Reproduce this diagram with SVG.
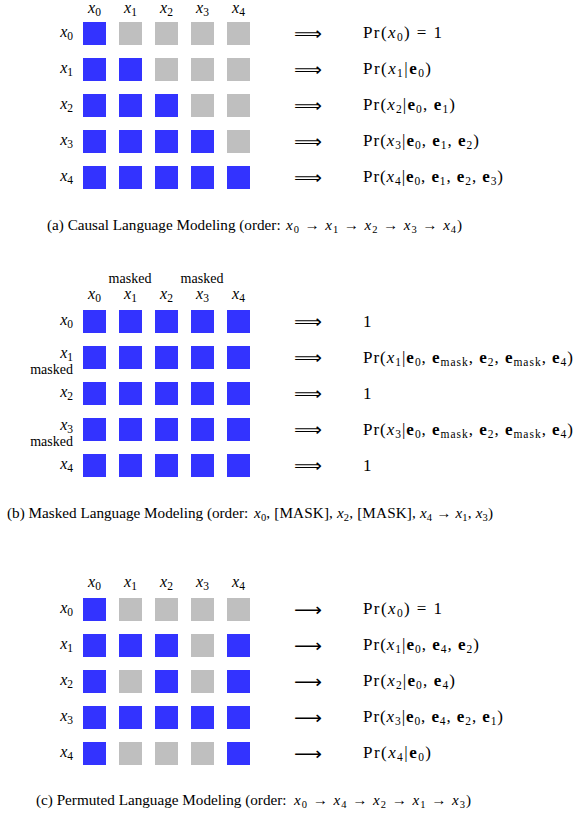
<svg xmlns="http://www.w3.org/2000/svg" width="586" height="828" viewBox="0 0 586 828">
<style>
text{font-family:"Liberation Serif","Times New Roman",serif;fill:#000}
.bl{fill:#3333ff}
.gr{fill:#bfbfbf}
.lbl{font-size:16px}
.m{font-size:17px}
.it{font-style:italic}
.b{font-weight:bold}
.sub{font-size:11.5px;font-style:normal;font-weight:normal}
.cap{font-size:15.2px}
.cs{font-size:10.5px;font-style:normal}
.msk{font-size:14px}
.arr{font-family:"DejaVu Sans",sans-serif;font-size:18px}
</style>
<rect width="586" height="828" fill="#fff"/>

<!-- Panel (a) -->
<g id="panel-a">
<g id="a-header">
<text class="lbl" x="94.5" y="12.5" text-anchor="middle"><tspan class="it">x</tspan><tspan class="sub" dy="3">0</tspan></text>
<text class="lbl" x="130.5" y="12.5" text-anchor="middle"><tspan class="it">x</tspan><tspan class="sub" dy="3">1</tspan></text>
<text class="lbl" x="166.5" y="12.5" text-anchor="middle"><tspan class="it">x</tspan><tspan class="sub" dy="3">2</tspan></text>
<text class="lbl" x="202.5" y="12.5" text-anchor="middle"><tspan class="it">x</tspan><tspan class="sub" dy="3">3</tspan></text>
<text class="lbl" x="238.5" y="12.5" text-anchor="middle"><tspan class="it">x</tspan><tspan class="sub" dy="3">4</tspan></text>
</g>
<g id="a-rowlabels">
<text class="lbl" x="73" y="37" text-anchor="end"><tspan class="it">x</tspan><tspan class="sub" dy="3">0</tspan></text>
<text class="lbl" x="73" y="73" text-anchor="end"><tspan class="it">x</tspan><tspan class="sub" dy="3">1</tspan></text>
<text class="lbl" x="73" y="109" text-anchor="end"><tspan class="it">x</tspan><tspan class="sub" dy="3">2</tspan></text>
<text class="lbl" x="73" y="145" text-anchor="end"><tspan class="it">x</tspan><tspan class="sub" dy="3">3</tspan></text>
<text class="lbl" x="73" y="181" text-anchor="end"><tspan class="it">x</tspan><tspan class="sub" dy="3">4</tspan></text>
</g>
<g id="a-grid">
<rect class="bl" x="83" y="22" width="23" height="23"/><rect class="gr" x="119" y="22" width="23" height="23"/><rect class="gr" x="155" y="22" width="23" height="23"/><rect class="gr" x="191" y="22" width="23" height="23"/><rect class="gr" x="227" y="22" width="23" height="23"/>
<rect class="bl" x="83" y="58" width="23" height="23"/><rect class="bl" x="119" y="58" width="23" height="23"/><rect class="gr" x="155" y="58" width="23" height="23"/><rect class="gr" x="191" y="58" width="23" height="23"/><rect class="gr" x="227" y="58" width="23" height="23"/>
<rect class="bl" x="83" y="94" width="23" height="23"/><rect class="bl" x="119" y="94" width="23" height="23"/><rect class="bl" x="155" y="94" width="23" height="23"/><rect class="gr" x="191" y="94" width="23" height="23"/><rect class="gr" x="227" y="94" width="23" height="23"/>
<rect class="bl" x="83" y="130" width="23" height="23"/><rect class="bl" x="119" y="130" width="23" height="23"/><rect class="bl" x="155" y="130" width="23" height="23"/><rect class="bl" x="191" y="130" width="23" height="23"/><rect class="gr" x="227" y="130" width="23" height="23"/>
<rect class="bl" x="83" y="166" width="23" height="23"/><rect class="bl" x="119" y="166" width="23" height="23"/><rect class="bl" x="155" y="166" width="23" height="23"/><rect class="bl" x="191" y="166" width="23" height="23"/><rect class="bl" x="227" y="166" width="23" height="23"/>
</g>
<g id="a-arrows">
<text class="arr" x="294" y="39.5" textLength="28" lengthAdjust="spacingAndGlyphs">⟹</text>
<text class="arr" x="294" y="75.5" textLength="28" lengthAdjust="spacingAndGlyphs">⟹</text>
<text class="arr" x="294" y="111.5" textLength="28" lengthAdjust="spacingAndGlyphs">⟹</text>
<text class="arr" x="294" y="147.5" textLength="28" lengthAdjust="spacingAndGlyphs">⟹</text>
<text class="arr" x="294" y="183.5" textLength="28" lengthAdjust="spacingAndGlyphs">⟹</text>
</g>
<g id="a-probs">
<text class="m" x="363" y="37.5" textLength="79" lengthAdjust="spacing">Pr(<tspan class="it">x</tspan><tspan class="sub" dy="3">0</tspan><tspan dy="-3">) = 1</tspan></text>
<text class="m" x="363" y="73.5" textLength="68" lengthAdjust="spacing">Pr(<tspan class="it">x</tspan><tspan class="sub" dy="3">1</tspan><tspan dy="-3">|</tspan><tspan class="b">e</tspan><tspan class="sub" dy="3">0</tspan><tspan dy="-3">)</tspan></text>
<text class="m" x="363" y="109.5" textLength="92" lengthAdjust="spacing">Pr(<tspan class="it">x</tspan><tspan class="sub" dy="3">2</tspan><tspan dy="-3">|</tspan><tspan class="b">e</tspan><tspan class="sub" dy="3">0</tspan><tspan dy="-3">, </tspan><tspan class="b">e</tspan><tspan class="sub" dy="3">1</tspan><tspan dy="-3">)</tspan></text>
<text class="m" x="363" y="145.5" textLength="116" lengthAdjust="spacing">Pr(<tspan class="it">x</tspan><tspan class="sub" dy="3">3</tspan><tspan dy="-3">|</tspan><tspan class="b">e</tspan><tspan class="sub" dy="3">0</tspan><tspan dy="-3">, </tspan><tspan class="b">e</tspan><tspan class="sub" dy="3">1</tspan><tspan dy="-3">, </tspan><tspan class="b">e</tspan><tspan class="sub" dy="3">2</tspan><tspan dy="-3">)</tspan></text>
<text class="m" x="363" y="181.5" textLength="140" lengthAdjust="spacing">Pr(<tspan class="it">x</tspan><tspan class="sub" dy="3">4</tspan><tspan dy="-3">|</tspan><tspan class="b">e</tspan><tspan class="sub" dy="3">0</tspan><tspan dy="-3">, </tspan><tspan class="b">e</tspan><tspan class="sub" dy="3">1</tspan><tspan dy="-3">, </tspan><tspan class="b">e</tspan><tspan class="sub" dy="3">2</tspan><tspan dy="-3">, </tspan><tspan class="b">e</tspan><tspan class="sub" dy="3">3</tspan><tspan dy="-3">)</tspan></text>
</g>
<g id="a-caption">
<text class="cap" x="47" y="229.5">(a) Causal Language Modeling (order:</text>
<text class="cap" x="286" y="229.5" textLength="176" lengthAdjust="spacing"><tspan class="it">x</tspan><tspan class="cs" dy="3">0</tspan><tspan dy="-3"> → </tspan><tspan class="it">x</tspan><tspan class="cs" dy="3">1</tspan><tspan dy="-3"> → </tspan><tspan class="it">x</tspan><tspan class="cs" dy="3">2</tspan><tspan dy="-3"> → </tspan><tspan class="it">x</tspan><tspan class="cs" dy="3">3</tspan><tspan dy="-3"> → </tspan><tspan class="it">x</tspan><tspan class="cs" dy="3">4</tspan><tspan dy="-3">)</tspan></text>
</g>
</g>

<!-- Panel (b) -->
<g id="panel-b">
<g id="b-header">
<text class="msk" x="130" y="282.5" text-anchor="middle">masked</text>
<text class="msk" x="202" y="282.5" text-anchor="middle">masked</text>
<text class="lbl" x="94.5" y="299" text-anchor="middle"><tspan class="it">x</tspan><tspan class="sub" dy="3">0</tspan></text>
<text class="lbl" x="130.5" y="299" text-anchor="middle"><tspan class="it">x</tspan><tspan class="sub" dy="3">1</tspan></text>
<text class="lbl" x="166.5" y="299" text-anchor="middle"><tspan class="it">x</tspan><tspan class="sub" dy="3">2</tspan></text>
<text class="lbl" x="202.5" y="299" text-anchor="middle"><tspan class="it">x</tspan><tspan class="sub" dy="3">3</tspan></text>
<text class="lbl" x="238.5" y="299" text-anchor="middle"><tspan class="it">x</tspan><tspan class="sub" dy="3">4</tspan></text>
</g>
<g id="b-rowlabels">
<text class="lbl" x="73" y="325" text-anchor="end"><tspan class="it">x</tspan><tspan class="sub" dy="3">0</tspan></text>
<text class="lbl" x="73" y="358" text-anchor="end"><tspan class="it">x</tspan><tspan class="sub" dy="2.5">1</tspan></text>
<text class="msk" x="73" y="374" text-anchor="end">masked</text>
<text class="lbl" x="73" y="397" text-anchor="end"><tspan class="it">x</tspan><tspan class="sub" dy="3">2</tspan></text>
<text class="lbl" x="73" y="430" text-anchor="end"><tspan class="it">x</tspan><tspan class="sub" dy="2.5">3</tspan></text>
<text class="msk" x="73" y="446" text-anchor="end">masked</text>
<text class="lbl" x="73" y="469" text-anchor="end"><tspan class="it">x</tspan><tspan class="sub" dy="3">4</tspan></text>
</g>
<g id="b-grid">
<rect class="bl" x="83" y="310" width="23" height="23"/><rect class="bl" x="119" y="310" width="23" height="23"/><rect class="bl" x="155" y="310" width="23" height="23"/><rect class="bl" x="191" y="310" width="23" height="23"/><rect class="bl" x="227" y="310" width="23" height="23"/>
<rect class="bl" x="83" y="346" width="23" height="23"/><rect class="bl" x="119" y="346" width="23" height="23"/><rect class="bl" x="155" y="346" width="23" height="23"/><rect class="bl" x="191" y="346" width="23" height="23"/><rect class="bl" x="227" y="346" width="23" height="23"/>
<rect class="bl" x="83" y="382" width="23" height="23"/><rect class="bl" x="119" y="382" width="23" height="23"/><rect class="bl" x="155" y="382" width="23" height="23"/><rect class="bl" x="191" y="382" width="23" height="23"/><rect class="bl" x="227" y="382" width="23" height="23"/>
<rect class="bl" x="83" y="418" width="23" height="23"/><rect class="bl" x="119" y="418" width="23" height="23"/><rect class="bl" x="155" y="418" width="23" height="23"/><rect class="bl" x="191" y="418" width="23" height="23"/><rect class="bl" x="227" y="418" width="23" height="23"/>
<rect class="bl" x="83" y="454" width="23" height="23"/><rect class="bl" x="119" y="454" width="23" height="23"/><rect class="bl" x="155" y="454" width="23" height="23"/><rect class="bl" x="191" y="454" width="23" height="23"/><rect class="bl" x="227" y="454" width="23" height="23"/>
</g>
<g id="b-arrows">
<text class="arr" x="294" y="327.5" textLength="28" lengthAdjust="spacingAndGlyphs">⟹</text>
<text class="arr" x="294" y="363.5" textLength="28" lengthAdjust="spacingAndGlyphs">⟹</text>
<text class="arr" x="294" y="399.5" textLength="28" lengthAdjust="spacingAndGlyphs">⟹</text>
<text class="arr" x="294" y="435.5" textLength="28" lengthAdjust="spacingAndGlyphs">⟹</text>
<text class="arr" x="294" y="471.5" textLength="28" lengthAdjust="spacingAndGlyphs">⟹</text>
</g>
<g id="b-probs">
<text class="m" x="363" y="327">1</text>
<text class="m" x="363" y="363" textLength="210" lengthAdjust="spacing">Pr(<tspan class="it">x</tspan><tspan class="sub" dy="3">1</tspan><tspan dy="-3">|</tspan><tspan class="b">e</tspan><tspan class="sub" dy="3">0</tspan><tspan dy="-3">, </tspan><tspan class="b">e</tspan><tspan class="sub" dy="3">mask</tspan><tspan dy="-3">, </tspan><tspan class="b">e</tspan><tspan class="sub" dy="3">2</tspan><tspan dy="-3">, </tspan><tspan class="b">e</tspan><tspan class="sub" dy="3">mask</tspan><tspan dy="-3">, </tspan><tspan class="b">e</tspan><tspan class="sub" dy="3">4</tspan><tspan dy="-3">)</tspan></text>
<text class="m" x="363" y="399">1</text>
<text class="m" x="363" y="435" textLength="210" lengthAdjust="spacing">Pr(<tspan class="it">x</tspan><tspan class="sub" dy="3">3</tspan><tspan dy="-3">|</tspan><tspan class="b">e</tspan><tspan class="sub" dy="3">0</tspan><tspan dy="-3">, </tspan><tspan class="b">e</tspan><tspan class="sub" dy="3">mask</tspan><tspan dy="-3">, </tspan><tspan class="b">e</tspan><tspan class="sub" dy="3">2</tspan><tspan dy="-3">, </tspan><tspan class="b">e</tspan><tspan class="sub" dy="3">mask</tspan><tspan dy="-3">, </tspan><tspan class="b">e</tspan><tspan class="sub" dy="3">4</tspan><tspan dy="-3">)</tspan></text>
<text class="m" x="363" y="471">1</text>
</g>
<g id="b-caption">
<text class="cap" x="7" y="518">(b) Masked Language Modeling (order:</text>
<text class="cap" x="254" y="518" textLength="239" lengthAdjust="spacing"><tspan class="it">x</tspan><tspan class="cs" dy="3">0</tspan><tspan dy="-3">, [MASK], </tspan><tspan class="it">x</tspan><tspan class="cs" dy="3">2</tspan><tspan dy="-3">, [MASK], </tspan><tspan class="it">x</tspan><tspan class="cs" dy="3">4</tspan><tspan dy="-3"> → </tspan><tspan class="it">x</tspan><tspan class="cs" dy="3">1</tspan><tspan dy="-3">, </tspan><tspan class="it">x</tspan><tspan class="cs" dy="3">3</tspan><tspan dy="-3">)</tspan></text>
</g>
</g>

<!-- Panel (c) -->
<g id="panel-c">
<g id="c-header">
<text class="lbl" x="94.5" y="587" text-anchor="middle"><tspan class="it">x</tspan><tspan class="sub" dy="3">0</tspan></text>
<text class="lbl" x="130.5" y="587" text-anchor="middle"><tspan class="it">x</tspan><tspan class="sub" dy="3">1</tspan></text>
<text class="lbl" x="166.5" y="587" text-anchor="middle"><tspan class="it">x</tspan><tspan class="sub" dy="3">2</tspan></text>
<text class="lbl" x="202.5" y="587" text-anchor="middle"><tspan class="it">x</tspan><tspan class="sub" dy="3">3</tspan></text>
<text class="lbl" x="238.5" y="587" text-anchor="middle"><tspan class="it">x</tspan><tspan class="sub" dy="3">4</tspan></text>
</g>
<g id="c-rowlabels">
<text class="lbl" x="73" y="613" text-anchor="end"><tspan class="it">x</tspan><tspan class="sub" dy="3">0</tspan></text>
<text class="lbl" x="73" y="649" text-anchor="end"><tspan class="it">x</tspan><tspan class="sub" dy="3">1</tspan></text>
<text class="lbl" x="73" y="685" text-anchor="end"><tspan class="it">x</tspan><tspan class="sub" dy="3">2</tspan></text>
<text class="lbl" x="73" y="721" text-anchor="end"><tspan class="it">x</tspan><tspan class="sub" dy="3">3</tspan></text>
<text class="lbl" x="73" y="757" text-anchor="end"><tspan class="it">x</tspan><tspan class="sub" dy="3">4</tspan></text>
</g>
<g id="c-grid">
<rect class="bl" x="83" y="598" width="23" height="23"/><rect class="gr" x="119" y="598" width="23" height="23"/><rect class="gr" x="155" y="598" width="23" height="23"/><rect class="gr" x="191" y="598" width="23" height="23"/><rect class="gr" x="227" y="598" width="23" height="23"/>
<rect class="bl" x="83" y="634" width="23" height="23"/><rect class="bl" x="119" y="634" width="23" height="23"/><rect class="bl" x="155" y="634" width="23" height="23"/><rect class="gr" x="191" y="634" width="23" height="23"/><rect class="bl" x="227" y="634" width="23" height="23"/>
<rect class="bl" x="83" y="670" width="23" height="23"/><rect class="gr" x="119" y="670" width="23" height="23"/><rect class="bl" x="155" y="670" width="23" height="23"/><rect class="gr" x="191" y="670" width="23" height="23"/><rect class="bl" x="227" y="670" width="23" height="23"/>
<rect class="bl" x="83" y="706" width="23" height="23"/><rect class="bl" x="119" y="706" width="23" height="23"/><rect class="bl" x="155" y="706" width="23" height="23"/><rect class="bl" x="191" y="706" width="23" height="23"/><rect class="bl" x="227" y="706" width="23" height="23"/>
<rect class="bl" x="83" y="742" width="23" height="23"/><rect class="gr" x="119" y="742" width="23" height="23"/><rect class="gr" x="155" y="742" width="23" height="23"/><rect class="gr" x="191" y="742" width="23" height="23"/><rect class="bl" x="227" y="742" width="23" height="23"/>
</g>
<g id="c-arrows">
<text class="arr" x="294" y="615.5" textLength="28" lengthAdjust="spacingAndGlyphs">⟶</text>
<text class="arr" x="294" y="651.5" textLength="28" lengthAdjust="spacingAndGlyphs">⟶</text>
<text class="arr" x="294" y="687.5" textLength="28" lengthAdjust="spacingAndGlyphs">⟶</text>
<text class="arr" x="294" y="723.5" textLength="28" lengthAdjust="spacingAndGlyphs">⟶</text>
<text class="arr" x="294" y="759.5" textLength="28" lengthAdjust="spacingAndGlyphs">⟶</text>
</g>
<g id="c-probs">
<text class="m" x="363" y="613.5" textLength="79" lengthAdjust="spacing">Pr(<tspan class="it">x</tspan><tspan class="sub" dy="3">0</tspan><tspan dy="-3">) = 1</tspan></text>
<text class="m" x="363" y="649.5" textLength="116" lengthAdjust="spacing">Pr(<tspan class="it">x</tspan><tspan class="sub" dy="3">1</tspan><tspan dy="-3">|</tspan><tspan class="b">e</tspan><tspan class="sub" dy="3">0</tspan><tspan dy="-3">, </tspan><tspan class="b">e</tspan><tspan class="sub" dy="3">4</tspan><tspan dy="-3">, </tspan><tspan class="b">e</tspan><tspan class="sub" dy="3">2</tspan><tspan dy="-3">)</tspan></text>
<text class="m" x="363" y="685.5" textLength="92" lengthAdjust="spacing">Pr(<tspan class="it">x</tspan><tspan class="sub" dy="3">2</tspan><tspan dy="-3">|</tspan><tspan class="b">e</tspan><tspan class="sub" dy="3">0</tspan><tspan dy="-3">, </tspan><tspan class="b">e</tspan><tspan class="sub" dy="3">4</tspan><tspan dy="-3">)</tspan></text>
<text class="m" x="363" y="721.5" textLength="140" lengthAdjust="spacing">Pr(<tspan class="it">x</tspan><tspan class="sub" dy="3">3</tspan><tspan dy="-3">|</tspan><tspan class="b">e</tspan><tspan class="sub" dy="3">0</tspan><tspan dy="-3">, </tspan><tspan class="b">e</tspan><tspan class="sub" dy="3">4</tspan><tspan dy="-3">, </tspan><tspan class="b">e</tspan><tspan class="sub" dy="3">2</tspan><tspan dy="-3">, </tspan><tspan class="b">e</tspan><tspan class="sub" dy="3">1</tspan><tspan dy="-3">)</tspan></text>
<text class="m" x="363" y="757.5" textLength="68" lengthAdjust="spacing">Pr(<tspan class="it">x</tspan><tspan class="sub" dy="3">4</tspan><tspan dy="-3">|</tspan><tspan class="b">e</tspan><tspan class="sub" dy="3">0</tspan><tspan dy="-3">)</tspan></text>
</g>
<g id="c-caption">
<text class="cap" x="36" y="805">(c) Permuted Language Modeling (order:</text>
<text class="cap" x="294" y="805" textLength="177" lengthAdjust="spacing"><tspan class="it">x</tspan><tspan class="cs" dy="3">0</tspan><tspan dy="-3"> → </tspan><tspan class="it">x</tspan><tspan class="cs" dy="3">4</tspan><tspan dy="-3"> → </tspan><tspan class="it">x</tspan><tspan class="cs" dy="3">2</tspan><tspan dy="-3"> → </tspan><tspan class="it">x</tspan><tspan class="cs" dy="3">1</tspan><tspan dy="-3"> → </tspan><tspan class="it">x</tspan><tspan class="cs" dy="3">3</tspan><tspan dy="-3">)</tspan></text>
</g>
</g>
</svg>
